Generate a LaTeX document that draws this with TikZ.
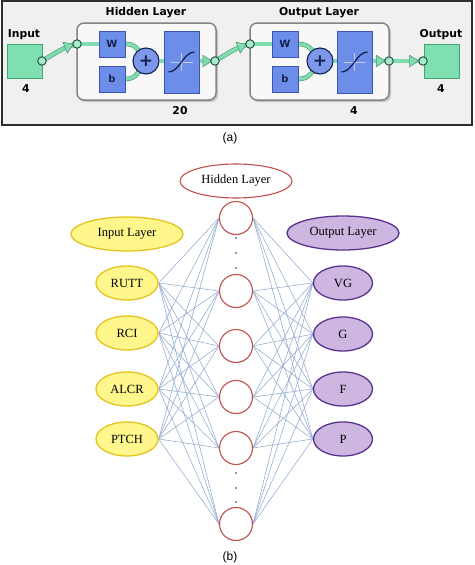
\documentclass[tikz,border=0pt]{standalone}
\usepackage{fontspec}
\setmainfont{Liberation Serif}
\newfontfamily\uifont{DejaVu Sans}
\newfontfamily\capfont{Liberation Sans}
\usetikzlibrary{shapes.geometric,arrows.meta}
\pgfdeclarelayer{back}
\pgfdeclarelayer{mid}
\pgfsetlayers{back,mid,main}
\definecolor{framebg}{HTML}{F0F0F0}
\definecolor{framedark}{HTML}{2E2E2E}
\definecolor{layerbg}{HTML}{F8F8F8}
\definecolor{layeredge}{HTML}{858585}
\definecolor{mint}{HTML}{7EE0B0}
\definecolor{mintdark}{HTML}{46A277}
\definecolor{flowlight}{HTML}{7FDDB0}
\definecolor{flowdark}{HTML}{4E9C77}
\definecolor{portfill}{HTML}{A6EBCB}
\definecolor{portdark}{HTML}{1E4C38}
\definecolor{bluefill}{HTML}{6D8EE8}
\definecolor{bluedark}{HTML}{3A55B5}
\definecolor{sumfill}{HTML}{7D98EA}
\definecolor{navy}{HTML}{14224F}
\definecolor{crossc}{HTML}{BFCDF5}
\definecolor{redc}{HTML}{C0504D}
\definecolor{yelfill}{HTML}{FFF68C}
\definecolor{yeledge}{HTML}{E6C21C}
\definecolor{purfill}{HTML}{CDB6E0}
\definecolor{puredge}{HTML}{5A3290}
\definecolor{linkc}{HTML}{93ACD0}
\tikzset{
  uitext/.style={font=\uifont\bfseries\fontsize{10.8}{12}\selectfont, inner sep=0},
  mintbox/.style={draw=mintdark, fill=mint, line width=0.8pt, minimum width=35pt, minimum height=34pt, inner sep=0},
  port/.style={circle, draw=portdark, fill=portfill, line width=0.9pt, minimum size=8.5pt, inner sep=0},
  bluebox/.style={draw=bluedark, fill=bluefill, line width=0.8pt, inner sep=0},
  wbbox/.style={bluebox, minimum width=26pt, minimum height=26pt, font=\uifont\bfseries\fontsize{10}{12}\selectfont, text=navy},
  tfbox/.style={bluebox, minimum width=35pt, minimum height=62pt},
  sumnode/.style={circle, draw=navy, fill=sumfill, line width=1.1pt, minimum size=26pt, inner sep=0, font=\uifont\bfseries\fontsize{17}{17}\selectfont, text=navy},
  layerbox/.style={draw=layeredge, fill=layerbg, line width=1.5pt, rounded corners=7pt, minimum width=139pt, minimum height=77pt, inner sep=0},
  flow/.style={draw=flowdark, double=flowlight, double distance=3.4pt, line width=0.6pt},
  arrowtri/.style={isosceles triangle, isosceles triangle apex angle=65, draw=flowdark, fill=flowlight, line width=0.6pt, minimum width=8.5pt, minimum height=9pt, inner sep=0, sloped},
  capt/.style={font=\capfont\fontsize{12}{14}\selectfont, inner sep=0},
  nntext/.style={font=\fontsize{12.5}{14}\selectfont, inner sep=0},
  hidcirc/.style={circle, draw=redc, fill=white, line width=1.1pt, minimum size=33pt, inner sep=0},
  redell/.style={ellipse, draw=redc, fill=white, line width=1.1pt, minimum width=112pt, minimum height=34pt, inner sep=0, nntext},
  yelell/.style={ellipse, draw=yeledge, fill=yelfill, line width=1.3pt, minimum height=34pt, inner sep=0, nntext},
  purell/.style={ellipse, draw=puredge, fill=purfill, line width=1.3pt, minimum height=34pt, inner sep=0, nntext},
  link/.style={draw=linkc, line width=0.55pt}
}
\begin{document}
\begin{tikzpicture}[x=1pt,y=-1pt]
\useasboundingbox (0,0) rectangle (474,565);

% ---------------- panel (a) ----------------
\begin{pgfonlayer}{back}
  \fill[white] (0,0) rectangle (474,565);
  \draw[draw=framedark, fill=framebg, line width=2pt] (2,1) rectangle (472,125);
  \fill[gray!45, rounded corners=7pt] (78.5,25) rectangle (218,102);
  \node[layerbox] (hbox) at (146.5,61.5) {};
  \fill[gray!45, rounded corners=7pt] (251.5,25) rectangle (391,102);
  \node[layerbox] (obox) at (319.5,61.5) {};
\end{pgfonlayer}

\node[uitext] (htitle) at (146,13) {Hidden Layer};
\node[uitext] (otitle) at (319,13) {Output Layer};
\node[uitext] (inlab) at (24,35) {Input};
\node[uitext] (outlab) at (441,35) {Output};
\node[uitext] (in4) at (26,89) {4};
\node[uitext] (out4) at (441,89) {4};
\node[uitext] (h20) at (180,111) {20};
\node[uitext] (o4) at (354,111) {4};

\node[mintbox] (inbox) at (24.5,61) {};
\node[mintbox] (outbox) at (441.5,61) {};

\node[wbbox] (W1) at (112,44) {W};
\node[wbbox] (b1) at (112,79) {b};
\node[sumnode] (plus1) at (146,61) {+};
\node[tfbox] (tf1) at (181.5,62) {};
\node[wbbox] (W2) at (285,44) {W};
\node[wbbox] (b2) at (285,79) {b};
\node[sumnode] (plus2) at (320,61) {+};
\node[tfbox] (tf2) at (354.5,62) {};

\foreach \t in {tf1,tf2}{
  \begin{scope}[shift={(\t.center)}]
    \draw[crossc, line width=0.8pt] (-11,0) -- (11,0) (0,-9) -- (0,9);
    \draw[navy, line width=1.3pt] (-13,10) .. controls (-2,10) and (2,-10) .. (13,-10);
  \end{scope}
}

\node[port] (inport) at (42,61) {};
\node[port] (hport1) at (77,44) {};
\node[port] (hport2) at (215,61) {};
\node[port] (oport1) at (250,44) {};
\node[port] (oport2) at (389,61) {};
\node[port] (outport) at (423,61) {};

\begin{pgfonlayer}{mid}
  \draw[flow] (inport.center) .. controls +(14,-8) and +(-12,2) .. (hport1.center) node[arrowtri, pos=0.74] {};
  \draw[flow] (hport1.center) -- (W1.west);
  \draw[flow] (W1.east) .. controls +(12,0) and +(-8,-10) .. (plus1.center);
  \draw[flow] (b1.east) .. controls +(12,0) and +(-8,10) .. (plus1.center);
  \draw[flow] (plus1.east) -- (tf1.west |- plus1.east);
  \draw[flow] (tf1.east |- hport2) -- (hport2.center) node[arrowtri, pos=0.42] {};
  \draw[flow] (hport2.center) .. controls +(14,-8) and +(-12,2) .. (oport1.center) node[arrowtri, pos=0.74] {};
  \draw[flow] (oport1.center) -- (W2.west);
  \draw[flow] (W2.east) .. controls +(12,0) and +(-8,-10) .. (plus2.center);
  \draw[flow] (b2.east) .. controls +(12,0) and +(-8,10) .. (plus2.center);
  \draw[flow] (plus2.east) -- (tf2.west |- plus2.east);
  \draw[flow] (tf2.east |- oport2) -- (oport2.center) node[arrowtri, pos=0.42] {};
  \draw[flow] (oport2.center) -- (outport.center) node[arrowtri, pos=0.7] {};
\end{pgfonlayer}

\node[capt] (capa) at (230,138) {(a)};

% ---------------- panel (b) ----------------
\node[redell] (hlab) at (236,181) {Hidden Layer};
\node[yelell, minimum width=112pt] (ilab) at (127,234) {Input Layer};
\node[purell, minimum width=112pt] (olab) at (343,233) {Output Layer};

\foreach \n/\y in {1/218,2/291,3/346,4/397,5/448,6/524}{
  \node[hidcirc] (h\n) at (236,\y) {};
}
\foreach \n/\y/\t in {1/283/RUTT,2/333/RCI,3/389/ALCR,4/439/PTCH}{
  \node[yelell, minimum width=62pt] (i\n) at (127,\y) {\t};
}
\foreach \n/\y/\t in {1/283/VG,2/334/G,3/389/F,4/439/P}{
  \node[purell, minimum width=59pt] (o\n) at (343,\y) {\t};
}
\begin{pgfonlayer}{mid}
  \foreach \a in {1,...,4}{
    \foreach \b in {1,...,6}{
      \draw[link] (i\a.east) -- (h\b.west);
      \draw[link] (h\b.east) -- (o\a.west);
    }
  }
\end{pgfonlayer}

\foreach \y in {238,253,268,473,488,502}{
  \fill[black!80] (236,\y) circle (0.9);
}

\node[capt] (capb) at (230,557) {(b)};
\end{tikzpicture}
\end{document}
